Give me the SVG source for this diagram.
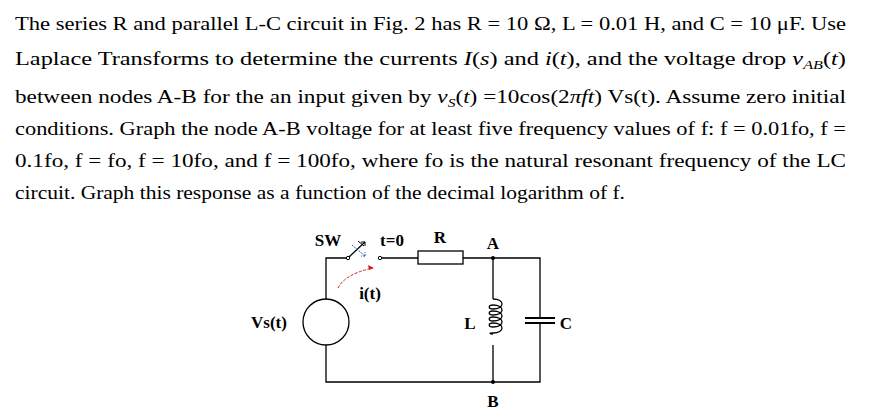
<svg xmlns="http://www.w3.org/2000/svg" width="886" height="420" viewBox="0 0 886 420">
<style>
.t{font-family:"Liberation Serif",serif;font-size:19.5px;fill:#000}
.l{font-family:"Liberation Serif","Times New Roman",serif;font-size:17px;font-weight:bold;fill:#000}
.w{fill:none;stroke:#000;stroke-width:1.3}
</style>
<rect width="886" height="420" fill="#fff"/>
<g id="text">
<text class="t" x="15" y="30" textLength="831" lengthAdjust="spacingAndGlyphs">The series R and parallel L-C circuit in Fig. 2 has R = 10 Ω, L = 0.01 H, and C = 10 μF. Use</text>
<text class="t" x="15" y="65" textLength="831" lengthAdjust="spacingAndGlyphs">Laplace Transforms to determine the currents <tspan font-style="italic">I</tspan>(<tspan font-style="italic">s</tspan>) and <tspan font-style="italic">i</tspan>(<tspan font-style="italic">t</tspan>), and the voltage drop <tspan font-style="italic">v</tspan><tspan font-style="italic" font-size="13" dy="4">AB</tspan><tspan dy="-4">(</tspan><tspan font-style="italic">t</tspan>)</text>
<text class="t" x="15" y="103" textLength="831" lengthAdjust="spacingAndGlyphs">between nodes A-B for the an input given by <tspan font-style="italic">v</tspan><tspan font-style="italic" font-size="13" dy="4">S</tspan><tspan dy="-4">(</tspan><tspan font-style="italic">t</tspan>) =10cos(2<tspan font-style="italic">πft</tspan>) Vs(t). Assume zero initial</text>
<text class="t" x="15" y="135" textLength="831" lengthAdjust="spacingAndGlyphs">conditions. Graph the node A-B voltage for at least five frequency values of f: f = 0.01fo, f =</text>
<text class="t" x="15" y="167" textLength="831" lengthAdjust="spacingAndGlyphs">0.1fo, f = fo, f = 10fo, and f = 100fo, where fo is the natural resonant frequency of the LC</text>
<text class="t" x="15" y="199" textLength="610" lengthAdjust="spacingAndGlyphs">circuit. Graph this response as a function of the decimal logarithm of f.</text>
</g>
<g id="connectors">
<polyline class="w" points="326,299 326,258 346,258"/>
<polyline class="w" points="382,258 418,258"/>
<polyline class="w" points="463,258 540,258 540,318"/>
<polyline class="w" points="540,322 540,382 326,382 326,345"/>
<line class="w" x1="493" y1="258" x2="493" y2="299"/>
<line class="w" x1="493" y1="345" x2="493" y2="382"/>
<circle cx="493" cy="258" r="2" fill="#000"/>
<circle cx="493" cy="382" r="2" fill="#000"/>
</g>
<g id="switch">
<circle cx="348" cy="258" r="1.7" fill="#fff" stroke="#000"/>
<circle cx="380" cy="258" r="1.7" fill="#fff" stroke="#000"/>
<line class="w" x1="349" y1="257" x2="365" y2="242"/>
<path d="M358,241 L364,246 M365,242 l-4,0 M365,242 l0,4" stroke="#000" fill="none" stroke-width="1"/>
<path d="M352,245 L365,256 M365,256 l-4,0 M365,256 l0,-4" stroke="#3355cc" fill="none" stroke-width="1" stroke-dasharray="2,1"/>
<path d="M338,288 Q345,274 373,268" stroke="#cc2222" fill="none" stroke-width="1" stroke-dasharray="3,1.5"/>
<path d="M374,268 l-6,-3 l1,5 z" fill="#cc2222"/>
<text class="l" x="328" y="246" text-anchor="middle">SW</text>
<text class="l" x="392" y="246" text-anchor="middle">t=0</text>
<text class="l" x="370" y="299" text-anchor="middle">i(t)</text>
</g>
<g id="R">
<rect x="418" y="251" width="45" height="13" fill="#fff" stroke="#000" stroke-width="1.3"/>
<text class="l" x="440" y="243" text-anchor="middle">R</text>
</g>
<g id="nodeA"><text class="l" x="493" y="249" text-anchor="middle">A</text></g>
<g id="nodeB"><text class="l" x="493" y="407" text-anchor="middle">B</text></g>
<g id="Vs">
<circle cx="326" cy="322" r="23" fill="none" stroke="#000" stroke-width="1.3"/>
<text class="l" x="269" y="328" text-anchor="middle">Vs(t)</text>
</g>
<g id="L">
<path class="w" d="M493,299 c12,0 12,10 0,10 c-5,0 -5,-4 0,-4 c12,0 12,10 0,10 c-5,0 -5,-4 0,-4 c12,0 12,10 0,10 c-5,0 -5,-4 0,-4 c12,0 12,10 0,10 c-5,0 -5,-4 0,-4 c12,0 12,10 0,10 c-4,0 -4,1 0,1"/>
<text class="l" x="470" y="329" text-anchor="middle">L</text>
</g>
<g id="C">
<line x1="525" y1="318" x2="555" y2="318" stroke="#000" stroke-width="2"/>
<line x1="525" y1="323" x2="555" y2="323" stroke="#000" stroke-width="2"/>
<text class="l" x="566" y="329" text-anchor="middle">C</text>
</g>
</svg>
